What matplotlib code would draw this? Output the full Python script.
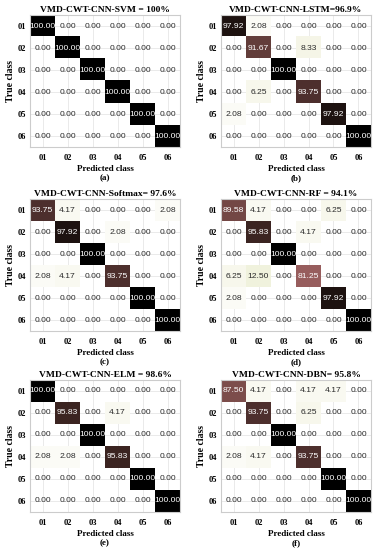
import numpy as np
import matplotlib
matplotlib.use("Agg")
import matplotlib.pyplot as plt
from matplotlib.colors import LinearSegmentedColormap

classes = ["01", "02", "03", "04", "05", "06"]

titles = [
    "VMD-CWT-CNN-SVM = 100%",
    "VMD-CWT-CNN-LSTM=96.9%",
    "VMD-CWT-CNN-Softmax= 97.6%",
    "VMD-CWT-CNN-RF = 94.1%",
    "VMD-CWT-CNN-ELM = 98.6%",
    "VMD-CWT-CNN-DBN= 95.8%",
]
panel_labels = ["(a)", "(b)", "(c)", "(d)", "(e)", "(f)"]

cm_svm = [
    [100.00, 0.00, 0.00, 0.00, 0.00, 0.00],
    [0.00, 100.00, 0.00, 0.00, 0.00, 0.00],
    [0.00, 0.00, 100.00, 0.00, 0.00, 0.00],
    [0.00, 0.00, 0.00, 100.00, 0.00, 0.00],
    [0.00, 0.00, 0.00, 0.00, 100.00, 0.00],
    [0.00, 0.00, 0.00, 0.00, 0.00, 100.00],
]
cm_lstm = [
    [97.92, 2.08, 0.00, 0.00, 0.00, 0.00],
    [0.00, 91.67, 0.00, 8.33, 0.00, 0.00],
    [0.00, 0.00, 100.00, 0.00, 0.00, 0.00],
    [0.00, 6.25, 0.00, 93.75, 0.00, 0.00],
    [2.08, 0.00, 0.00, 0.00, 97.92, 0.00],
    [0.00, 0.00, 0.00, 0.00, 0.00, 100.00],
]
cm_softmax = [
    [93.75, 4.17, 0.00, 0.00, 0.00, 2.08],
    [0.00, 97.92, 0.00, 2.08, 0.00, 0.00],
    [0.00, 0.00, 100.00, 0.00, 0.00, 0.00],
    [2.08, 4.17, 0.00, 93.75, 0.00, 0.00],
    [0.00, 0.00, 0.00, 0.00, 100.00, 0.00],
    [0.00, 0.00, 0.00, 0.00, 0.00, 100.00],
]
cm_rf = [
    [89.58, 4.17, 0.00, 0.00, 6.25, 0.00],
    [0.00, 95.83, 0.00, 4.17, 0.00, 0.00],
    [0.00, 0.00, 100.00, 0.00, 0.00, 0.00],
    [6.25, 12.50, 0.00, 81.25, 0.00, 0.00],
    [2.08, 0.00, 0.00, 0.00, 97.92, 0.00],
    [0.00, 0.00, 0.00, 0.00, 0.00, 100.00],
]
cm_elm = [
    [100.00, 0.00, 0.00, 0.00, 0.00, 0.00],
    [0.00, 95.83, 0.00, 4.17, 0.00, 0.00],
    [0.00, 0.00, 100.00, 0.00, 0.00, 0.00],
    [2.08, 2.08, 0.00, 95.83, 0.00, 0.00],
    [0.00, 0.00, 0.00, 0.00, 100.00, 0.00],
    [0.00, 0.00, 0.00, 0.00, 0.00, 100.00],
]
cm_dbn = [
    [87.50, 4.17, 0.00, 4.17, 4.17, 0.00],
    [0.00, 93.75, 0.00, 6.25, 0.00, 0.00],
    [0.00, 0.00, 100.00, 0.00, 0.00, 0.00],
    [2.08, 4.17, 0.00, 93.75, 0.00, 0.00],
    [0.00, 0.00, 0.00, 0.00, 100.00, 0.00],
    [0.00, 0.00, 0.00, 0.00, 0.00, 100.00],
]
matrices = [cm_svm, cm_lstm, cm_softmax, cm_rf, cm_elm, cm_dbn]

# white -> pale cream -> dusty rose -> black
cmap = LinearSegmentedColormap.from_list("cm", [
    (0.0, (1.0, 1.0, 1.0)),
    (0.02, (0.985, 0.985, 0.965)),
    (0.125, (0.945, 0.95, 0.87)),
    (0.8125, (0.60, 0.37, 0.37)),
    (0.90, (0.45, 0.28, 0.27)),
    (0.96, (0.24, 0.145, 0.135)),
    (1.0, (0.0, 0.0, 0.0)),
])

serif = ["Liberation Serif", "DejaVu Serif"]
sans = ["Liberation Sans", "DejaVu Sans"]

fig = plt.figure(figsize=(3.79, 5.5), dpi=100)

W, H = 379, 550
lefts = [30, 221]
tops = [15, 199, 380]
aw, ah = 150, 132

for k, cm in enumerate(matrices):
    r, c = divmod(k, 2)
    ax = fig.add_axes([lefts[c] / W, 1 - (tops[r] + ah) / H, aw / W, ah / H])
    data = np.array(cm)
    masked = np.ma.masked_where(data == 0, data)
    ax.set_axisbelow(True)
    ax.grid(True, color="#e6e6e6", linewidth=0.6, zorder=0)
    ax.imshow(masked, cmap=cmap, vmin=0, vmax=100, aspect="auto",
              interpolation="nearest", zorder=1)
    for i in range(6):
        for j in range(6):
            v = data[i, j]
            col = "white" if v > 70 else "#2a2a2a"
            ax.text(j, i, "%.2f" % v, ha="center", va="center", color=col,
                    fontsize=6.1, family=sans, zorder=3)
    ax.set_xticks(range(6))
    ax.set_yticks(range(6))
    ax.set_xticklabels(classes, family=serif, fontweight="bold", fontsize=6)
    ax.set_yticklabels(classes, family=serif, fontweight="bold", fontsize=6)
    ax.tick_params(axis="x", length=0, pad=5)
    ax.tick_params(axis="y", length=0, pad=3)
    ax.set_xlim(-0.5, 5.5)
    ax.set_ylim(5.5, -0.5)
    for s in ax.spines.values():
        s.set_color("#cccccc")
        s.set_linewidth(0.8)
    ax.set_title(titles[k], family=serif, fontweight="bold", fontsize=6.8, pad=2)
    ax.set_xlabel("Predicted class\n" + panel_labels[k], family=serif,
                  fontweight="bold", fontsize=6.5, labelpad=2, linespacing=1.3)
    ax.set_ylabel("True class", family=serif, fontweight="bold", fontsize=7,
                  labelpad=2)

fig.savefig("out.png", dpi=100)
